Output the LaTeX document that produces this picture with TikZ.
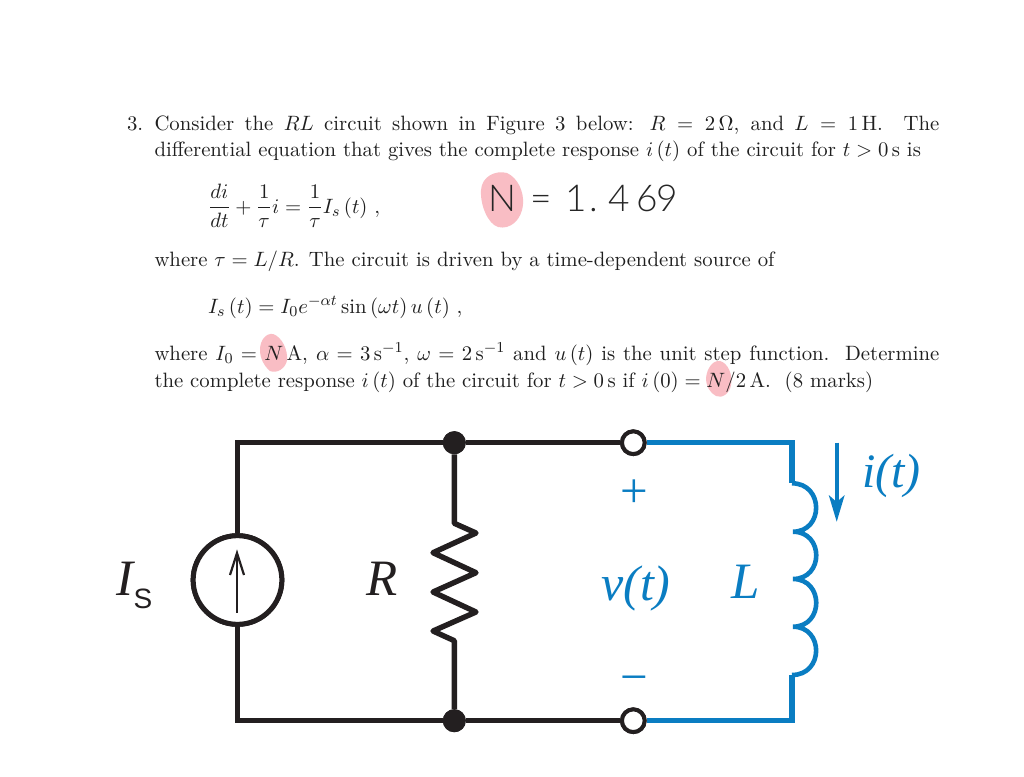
\documentclass[tikz,border=0pt]{standalone}
\usepackage{fontspec}
\usepackage{amsmath}
\newfontfamily\circuitfont{Liberation Serif}
\newfontfamily\circuitsans{Liberation Sans}
\newfontfamily\handfont[UprightFont={* Light}]{Lato}
\definecolor{wireblack}{HTML}{231F20}
\definecolor{wireblue}{HTML}{0A7DC2}
\definecolor{blob}{HTML}{F9BDC4}
\tikzset{
  body/.style={anchor=base west,inner sep=0pt,outer sep=0pt,scale=1.895,text=black!88,font=\fontsize{10.95}{14}\selectfont},
  wire/.style={draw=wireblack,line width=5.4pt},
  bwire/.style={draw=wireblue,line width=5.4pt},
  junction/.style={circle,fill=wireblack,inner sep=0pt,minimum size=23pt},
  terminal/.style={circle,draw=wireblack,fill=white,line width=4pt,inner sep=0pt,minimum size=22.7pt},
  source/.style={circle,draw=wireblack,fill=white,line width=5pt,inner sep=0pt,minimum size=88.7pt},
  clabel/.style={anchor=base west,inner sep=0pt,text=wireblack,font=\fontsize{51}{51}\selectfont\circuitfont\itshape},
  blabel/.style={anchor=base west,inner sep=0pt,text=wireblue,font=\fontsize{48}{48}\selectfont\circuitfont\itshape},
  pinkblob/.style={fill=blob,draw=none},
  hand/.style={anchor=base west,inner sep=0pt,text=black!85,font=\fontsize{37}{37}\selectfont\handfont}
}
\begin{document}
\begin{tikzpicture}[x=1pt,y=-1pt]
\useasboundingbox (0,0) rectangle (1024,776);
\fill[white] (0,0) rectangle (1024,776);

% highlighter blobs
\fill[pinkblob] (481,190) .. controls (482,176) and (496,170) .. (507,173) .. controls (518,178) and (524,192) .. (523,204) .. controls (522,220) and (510,230) .. (498,227) .. controls (488,224) and (480,205) .. (481,190) -- cycle;
\fill[pinkblob] (260,350) .. controls (260,340) and (266,333) .. (273,334) .. controls (282,337) and (288,350) .. (287,360) .. controls (286,368) and (277,374) .. (270,371) .. controls (264,366) and (260,358) .. (260,350) -- cycle;
\fill[pinkblob] (706,378) .. controls (707,368) and (713,360) .. (720,361) .. controls (728,363) and (733,375) .. (731,385) .. controls (730,393) and (722,399) .. (716,396) .. controls (710,393) and (706,386) .. (706,378) -- cycle;

% problem text
\node[body] (num) at (127,130) {3.};
\node[body] (l1) at (154.5,130) {\hbox to 414.2pt{Consider the $RL$ circuit shown in Figure 3 below: $R=2\,\Omega$, and $L=1\,\mathrm{H}$.\ \ The}};
\node[body] (l2) at (154.5,156) {differential equation that gives the complete response $i\,(t)$ of the circuit for $t>0\,\mathrm{s}$ is};
\node[body] (eq1) at (208,213) {$\displaystyle\frac{di}{dt}+\frac{1}{\tau}i=\frac{1}{\tau}I_s\,(t)\ ,$};
\node[body] (l3) at (154.5,266) {where $\tau=L/R$. The circuit is driven by a time-dependent source of};
\node[body] (eq2) at (208,313) {$I_s\,(t)=I_0e^{-\alpha t}\sin\,(\omega t)\,u\,(t)\ ,$};
\node[body] (l4) at (154.5,360.5) {\hbox to 414.2pt{where $I_0=N\,\mathrm{A}$, $\alpha=3\,\mathrm{s}^{-1}$, $\omega=2\,\mathrm{s}^{-1}$ and $u\,(t)$ is the unit step function.\ \ Determine}};
\node[body] (l5) at (154.5,387) {the complete response $i\,(t)$ of the circuit for $t>0\,\mathrm{s}$ if $i\,(0)=N/2\,\mathrm{A}$.\ \ (8 marks)};

% handwritten value
\node[hand] (hv) at (488,211) {N\hspace{14pt}=\hspace{14pt}1\hspace{2pt}.\hspace{11pt}4\hspace{6pt}6\hspace{-1pt}9};

% circuit nodes
\coordinate (tl) at (237.5,442.7);
\coordinate (bl) at (237.5,720.7);
\coordinate (tr) at (792,442.7);
\coordinate (br) at (792,720.7);
\coordinate (Ltop) at (792,483.3);
\coordinate (Lbot) at (792,675);
\coordinate (Rtop) at (454.3,523.3);
\coordinate (Rbot) at (454.3,640.7);
\node[source] (src) at (237.5,580) {};
\node[junction] (jt) at (454.3,442.7) {};
\node[junction] (jb) at (454.3,720.7) {};
\node[terminal] (ot) at (633.3,442.7) {};
\node[terminal] (ob) at (633.3,720.7) {};

% blue wires and inductor (under the terminals)
\draw[bwire] (ot.east) -- (tr) -- (Ltop);
\draw[bwire] (ob.east) -- (br) -- (Lbot);
\draw[draw=wireblue,line width=4.6pt] (Ltop)
  .. controls (824,483.3) and (824,531.7) .. (793,531.7)
  .. controls (824,531.7) and (824,579) .. (793,579)
  .. controls (824,579) and (824,626.7) .. (793,626.7)
  .. controls (824,626.7) and (824,675) .. (Lbot);

% black wires
\draw[wire] (src.north) -- (tl) -- (jt) -- (ot.west);
\draw[wire] (src.south) -- (bl) -- (jb) -- (ob.west);
\draw[wire,line join=round] (jt) -- (Rtop) -- (476,533) -- (433,552.7) -- (476,572.7) -- (433,592) -- (476,612) -- (433,631) -- (Rbot) -- (jb);
\node[junction] at (jt) {};
\node[junction] at (jb) {};
\node[terminal] at (ot) {};
\node[terminal] at (ob) {};
\node[source] at (src) {};

% arrow in source
\coordinate (sa) at (237,612.7);
\coordinate (st) at (237,553);
\draw[wireblack,line width=2.6pt] (sa) -- (st);
\draw[wireblack,line width=2.2pt] (230,575) -- (st) -- (244,575);

% current arrow
\coordinate (ia) at (836.7,442.7);
\coordinate (it) at (836.7,521.7);
\draw[wireblue,line width=4.4pt] (ia) -- (836.7,505);
\fill[wireblue] (it) -- (828.7,495) -- (836.7,502) -- (844.7,495) -- cycle;

% labels
\node[clabel] (Is) at (116,595) {I};
\node[anchor=base west,inner sep=0pt,text=wireblack,font=\fontsize{28}{28}\selectfont\circuitsans] (Iss) at (133.5,608) {S};
\node[clabel] (R) at (366,595) {R};
\node[blabel,font=\fontsize{50}{50}\selectfont\circuitfont\itshape] (v) at (601,600) {v(t)};
\node[blabel,font=\fontsize{51}{51}\selectfont\circuitfont\itshape] (L) at (731,598) {L};
\node[blabel] (i) at (862,487) {i(t)};
\node[anchor=center,inner sep=0pt,text=wireblue,font=\fontsize{49}{49}\selectfont\circuitfont] (plus) at (634,494) {+};
\node[anchor=center,inner sep=0pt,text=wireblue,font=\fontsize{49}{49}\selectfont\circuitfont] (minus) at (634,685) {−};
\end{tikzpicture}
\end{document}
